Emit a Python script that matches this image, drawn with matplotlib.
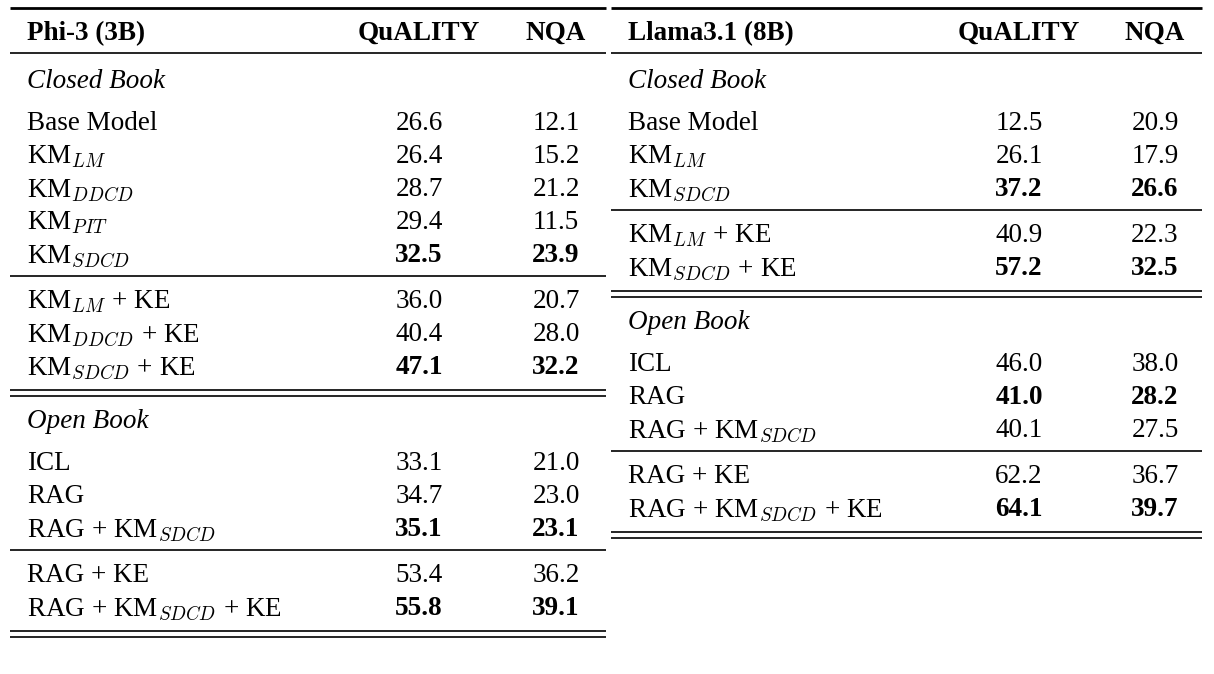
import matplotlib
matplotlib.use("Agg")
import matplotlib.pyplot as plt

plt.rcParams['font.family'] = ['Liberation Serif', 'DejaVu Serif']
plt.rcParams['mathtext.fontset'] = 'cm'

# Left table: Phi-3 (3B)
phi_labels = ["Base Model", "KM$_{LM}$", "KM$_{DDCD}$", "KM$_{PIT}$", "KM$_{SDCD}$",
              "KM$_{LM}$ + KE", "KM$_{DDCD}$ + KE", "KM$_{SDCD}$ + KE",
              "ICL", "RAG", "RAG + KM$_{SDCD}$",
              "RAG + KE", "RAG + KM$_{SDCD}$ + KE"]
phi_quality = ["26.6", "26.4", "28.7", "29.4", "32.5", "36.0", "40.4", "47.1",
               "33.1", "34.7", "35.1", "53.4", "55.8"]
phi_nqa = ["12.1", "15.2", "21.2", "11.5", "23.9", "20.7", "28.0", "32.2",
           "21.0", "23.0", "23.1", "36.2", "39.1"]
phi_bold = [4, 7, 10, 12]
phi_groups = [5, 3, 3, 2]   # rows per block: closed, closed+KE, open, open+KE

# Right table: Llama3.1 (8B)
llama_labels = ["Base Model", "KM$_{LM}$", "KM$_{SDCD}$",
                "KM$_{LM}$ + KE", "KM$_{SDCD}$ + KE",
                "ICL", "RAG", "RAG + KM$_{SDCD}$",
                "RAG + KE", "RAG + KM$_{SDCD}$ + KE"]
llama_quality = ["12.5", "26.1", "37.2", "40.9", "57.2", "46.0", "41.0", "40.1", "62.2", "64.1"]
llama_nqa = ["20.9", "17.9", "26.6", "22.3", "32.5", "38.0", "28.2", "27.5", "36.7", "39.7"]
llama_bold = [2, 4, 6, 9]
llama_groups = [3, 2, 3, 2]

fig = plt.figure(figsize=(12.14, 6.74), dpi=100)
ax = fig.add_axes([0, 0, 1, 1])
ax.set_xlim(0, 1214)
ax.set_ylim(674, 0)
ax.axis('off')

FS = 19.5
ROW = 33
BL = 8  # baseline offset below row centre


def hline(x0, x1, y, lw=1.2):
    ax.plot([x0, x1], [y, y], color='black', lw=lw, solid_capstyle='butt')


def txt(x, y, s, **kw):
    ax.text(x, y + BL, s, fontsize=FS, va='baseline', **kw)


def draw_table(x0, x1, title, labels, qual, nqa, bold, groups, cq, cn):
    lx = x0 + 17
    hline(x0, x1, 8, 2.0)
    txt(lx, 32, title, fontweight='bold')
    txt(cq, 32, "QuALITY", fontweight='bold', ha='center')
    txt(cn, 32, "NQA", fontweight='bold', ha='center')
    hline(x0, x1, 53)
    y = 80
    idx = 0
    for gi, n in enumerate(groups):
        if gi in (0, 2):
            txt(lx, y, "Closed Book" if gi == 0 else "Open Book", style='italic')
            y += 42
        else:
            y += 24
        for _ in range(n):
            w = 'bold' if idx in bold else 'normal'
            txt(lx, y, labels[idx])
            txt(cq, y, qual[idx], ha='center', fontweight=w)
            txt(cn, y, nqa[idx], ha='center', fontweight=w)
            idx += 1
            y += ROW
        y -= ROW
        if gi in (0, 2):
            y += 22
            hline(x0, x1, y)
        else:
            y += 24
            hline(x0, x1, y)
            hline(x0, x1, y + 6)
            y += 30


draw_table(10, 606, "Phi-3 (3B)", phi_labels, phi_quality, phi_nqa, phi_bold, phi_groups, 419, 556)
draw_table(611, 1202, "Llama3.1 (8B)", llama_labels, llama_quality, llama_nqa, llama_bold, llama_groups, 1019, 1155)

fig.savefig("out.png", dpi=100)
